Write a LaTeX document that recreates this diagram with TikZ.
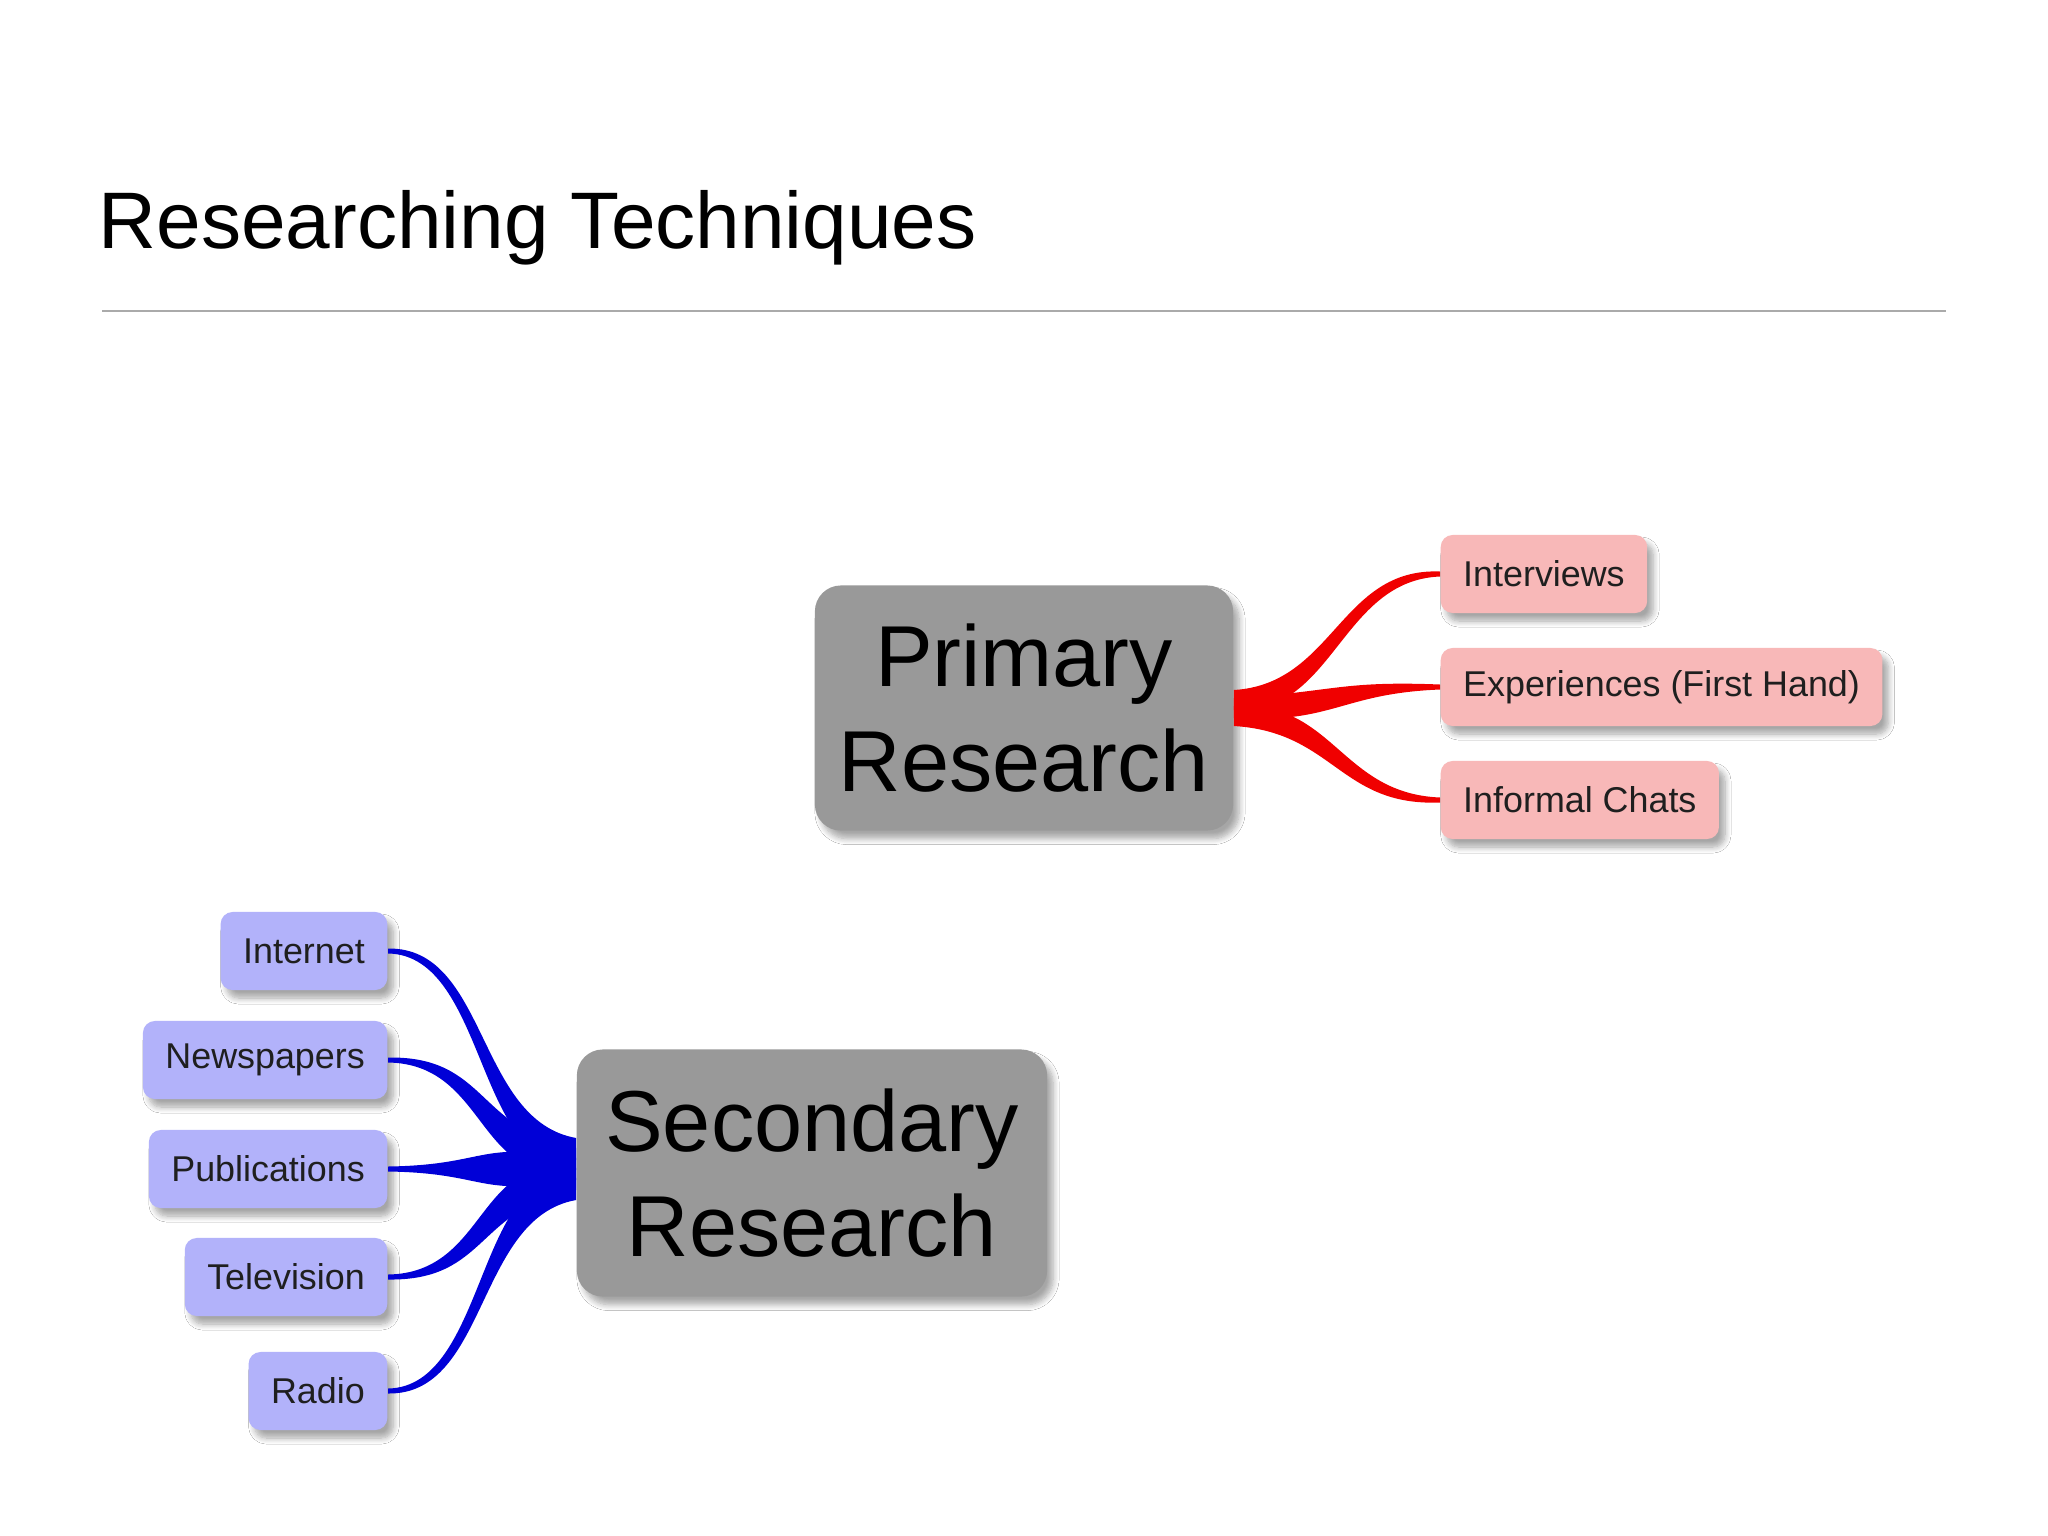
\documentclass[tikz,border=0pt]{standalone}
\usepackage{fontspec}
\setmainfont{Liberation Sans}
\usetikzlibrary{calc,shadows.blur}
\newcommand{\limb}[5]{%
  \fill[#1] ($(#2)+(0,-#4)$) .. controls ($(#2)+(100,{-1.6*#4})$) and ($(#3)+(-100,{-2.6*#5})$) .. ($(#3)+(0,-#5)$)
    -- ($(#3)+(0,#5)$) .. controls ($(#3)+(-100,{2.6*#5})$) and ($(#2)+(100,{1.6*#4})$) .. ($(#2)+(0,#4)$) -- cycle;}
\begin{document}
\begin{tikzpicture}[x=0.01cm, y=-0.01cm,
  softshadow/.style={blur shadow={shadow xshift=0.06cm, shadow yshift=-0.08cm, shadow blur radius=0.06cm, shadow blur steps=8, shadow opacity=35}},
  mainbox/.style={fill=boxgray, rounded corners=0.26cm, softshadow, align=center, inner sep=0pt, font=\fontsize{24.6}{30}\selectfont},
  leaf/.style={rounded corners=0.12cm, softshadow, minimum height=0.78cm, inner xsep=0.225cm, text=black!88, font=\fontsize{10.2}{12}\selectfont},
  pinkleaf/.style={leaf, fill=leafpink},
  blueleaf/.style={leaf, fill=leafblue}]
\definecolor{boxgray}{RGB}{153,153,153}
\definecolor{leafpink}{RGB}{248,184,184}
\definecolor{leafblue}{RGB}{178,178,250}
\definecolor{limbred}{RGB}{240,0,0}
\definecolor{limbblue}{RGB}{0,0,215}
\definecolor{rulegray}{RGB}{170,170,170}
\fill[white] (0,0) rectangle (2048,1536);
\useasboundingbox (0,0) rectangle (2048,1536);
\node[anchor=base west, inner sep=0pt, font=\fontsize{22.8}{27}\selectfont] (title) at (98,248) {Researching Techniques};
\draw[rulegray, line width=0.02cm] (102,311) -- (1946,311);
\node[mainbox, minimum width=4.18cm, minimum height=2.45cm] (prim) at (1024,708) {Primary\\Research};
\node[mainbox, minimum width=4.70cm, minimum height=2.47cm] (sec) at (812,1173) {Secondary\\Research};
\node[pinkleaf, anchor=west] (intv) at (1440,574) {Interviews};
\node[pinkleaf, anchor=west] (expr) at (1440,687) {Experiences (First Hand)};
\node[pinkleaf, anchor=west] (chat) at (1440,800) {Informal Chats};
\node[blueleaf, anchor=east] (inet) at (388,951) {Internet};
\node[blueleaf, anchor=east] (news) at (388,1060) {Newspapers};
\node[blueleaf, anchor=east] (publ) at (388,1169) {Publications};
\node[blueleaf, anchor=east] (tele) at (388,1277) {Television};
\node[blueleaf, anchor=east] (radio) at (388,1391) {Radio};
\coordinate (pr1) at ($(prim.east)+(0,-8)$);
\coordinate (pr2) at (prim.east);
\coordinate (pr3) at ($(prim.east)+(0,8)$);
\coordinate (sr1) at ($(sec.west)+(0,-24)$);
\coordinate (sr2) at ($(sec.west)+(0,-14)$);
\coordinate (sr3) at ($(sec.west)+(0,-4)$);
\coordinate (sr4) at ($(sec.west)+(0,6)$);
\coordinate (sr5) at ($(sec.west)+(0,16)$);
\limb{limbred}{pr1}{intv.west}{10}{2.5}
\limb{limbred}{pr2}{expr.west}{10}{2.5}
\limb{limbred}{pr3}{chat.west}{10}{2.5}
\limb{limbblue}{inet.east}{sr1}{2.5}{11}
\limb{limbblue}{news.east}{sr2}{2.5}{11}
\limb{limbblue}{publ.east}{sr3}{2.5}{11}
\limb{limbblue}{tele.east}{sr4}{2.5}{11}
\limb{limbblue}{radio.east}{sr5}{2.5}{11}
\end{tikzpicture}
\end{document}
